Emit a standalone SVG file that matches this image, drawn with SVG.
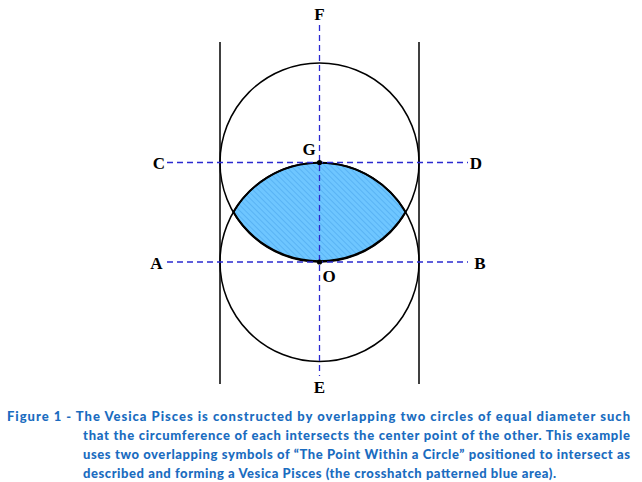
<svg xmlns="http://www.w3.org/2000/svg" width="642" height="482" viewBox="0 0 642 482">
<style>
.lbl{font-family:"Liberation Serif",serif;font-weight:bold;font-size:17px;fill:#000;text-anchor:middle;dominant-baseline:central}
.cap{font-family:"Lato","Open Sans",sans-serif;font-weight:900;font-size:13px;fill:#1a6cc0}
.dash{stroke:#2a2ad0;stroke-width:1.3;stroke-dasharray:6 4;fill:none}
.blk{stroke:#000;stroke-width:1.5;fill:none}
</style>
<defs>
<pattern id="hatch" width="4" height="4" patternUnits="userSpaceOnUse" patternTransform="rotate(-45)">
<rect width="4" height="4" fill="#6ec6ff"/>
<line x1="0" y1="0" x2="0" y2="4" stroke="#4aa6ee" stroke-width="1.2"/>
</pattern>
</defs>
<rect width="642" height="482" fill="#fff"/>
<g id="vesica">
<path d="M233.4,212 A100,100 0 0 1 405.6,212 A100,100 0 0 1 233.4,212 Z" fill="url(#hatch)" stroke="#000" stroke-width="2"/>
</g>
<g id="circle-top"><circle cx="319.5" cy="162.5" r="99.5" class="blk"/></g>
<g id="circle-bottom"><circle cx="319.5" cy="262" r="99.5" class="blk"/></g>
<g id="tangent-left"><line x1="220" y1="42" x2="220" y2="384" class="blk"/></g>
<g id="tangent-right"><line x1="419" y1="42" x2="419" y2="384" class="blk"/></g>
<g id="connectors">
<line x1="167" y1="162.5" x2="468" y2="162.5" class="dash"/>
<line x1="167" y1="262" x2="468" y2="262" class="dash"/>
<line x1="319.5" y1="25" x2="319.5" y2="376" class="dash"/>
</g>
<g id="point-G"><circle cx="319.5" cy="162.5" r="2.6" fill="#000"/><text x="309" y="149" class="lbl">G</text></g>
<g id="point-O"><circle cx="319.5" cy="262" r="2.6" fill="#000"/><text x="329" y="276" class="lbl">O</text></g>
<g id="label-F"><text x="319.5" y="14" class="lbl">F</text></g>
<g id="label-E"><text x="319.5" y="387" class="lbl">E</text></g>
<g id="label-C"><text x="159" y="163" class="lbl">C</text></g>
<g id="label-D"><text x="476" y="163" class="lbl">D</text></g>
<g id="label-A"><text x="156.5" y="263" class="lbl">A</text></g>
<g id="label-B"><text x="480" y="263" class="lbl">B</text></g>
<g id="caption">
<text x="7" y="421" class="cap" textLength="623" lengthAdjust="spacing">Figure 1 - The Vesica Pisces is constructed by overlapping two circles of equal diameter such</text>
<text x="83" y="440" class="cap" textLength="547" lengthAdjust="spacing">that the circumference of each intersects the center point of the other. This example</text>
<text x="83" y="459" class="cap" textLength="547" lengthAdjust="spacing">uses two overlapping symbols of “The Point Within a Circle” positioned to intersect as</text>
<text x="83" y="478" class="cap" textLength="473" lengthAdjust="spacing">described and forming a Vesica Pisces (the crosshatch patterned blue area).</text>
</g>
</svg>
